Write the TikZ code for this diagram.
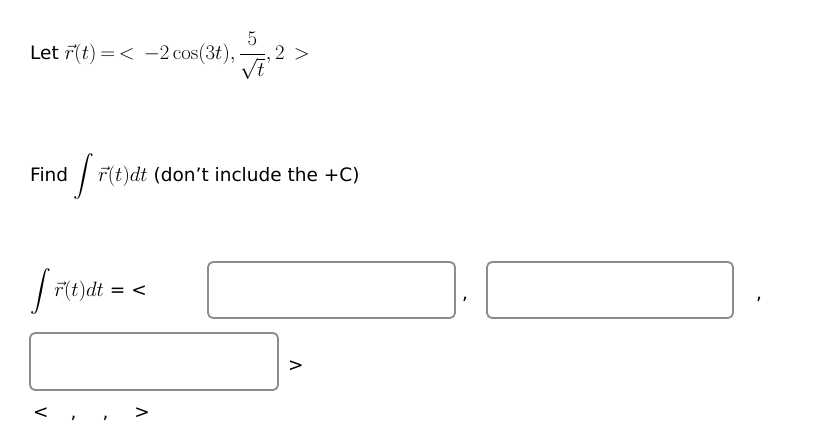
\documentclass[tikz,border=0pt]{standalone}
\usepackage[no-math]{fontspec}
\setmainfont{DejaVu Sans}
\usepackage{amsmath}
\newcommand{\mm}[1]{{\fontsize{22}{26}\selectfont$#1$}}
\begin{document}
\begin{tikzpicture}[x=1pt,y=-1pt,
  txt/.style={anchor=base west,inner sep=0,font=\fontsize{18.5}{22}\selectfont},
  box/.style={draw=black!45,line width=1.8pt,rounded corners=5pt}]
\useasboundingbox (0,0) rectangle (828,443);
\node[txt] (l1) at (30,60) {Let \mm{\vec r(t)}\hspace{4pt}\mm{=\,<\,-2\cos(3t),\dfrac{5}{\sqrt t},2\,>}};
\node[txt] (l2) at (30,182) {Find \mm{\displaystyle\int \vec r(t)dt} (don{\char"27}t include the +C)};
\node[txt] (l3) at (30,297) {\mm{\displaystyle\int \vec r(t)dt} = <};
\draw[box] (208,262) rectangle (455,318);
\node[txt] (c1) at (462,300) {,};
\draw[box] (487,262) rectangle (733,318);
\node[txt] (c2) at (756,300) {,};
\draw[box] (30,333) rectangle (278,390);
\node[txt] (gt) at (288,372) {>};
\node[txt] (b) at (33,419) {<\hspace{22pt},\hspace{26pt},\hspace{26pt}>};
\end{tikzpicture}
\end{document}
